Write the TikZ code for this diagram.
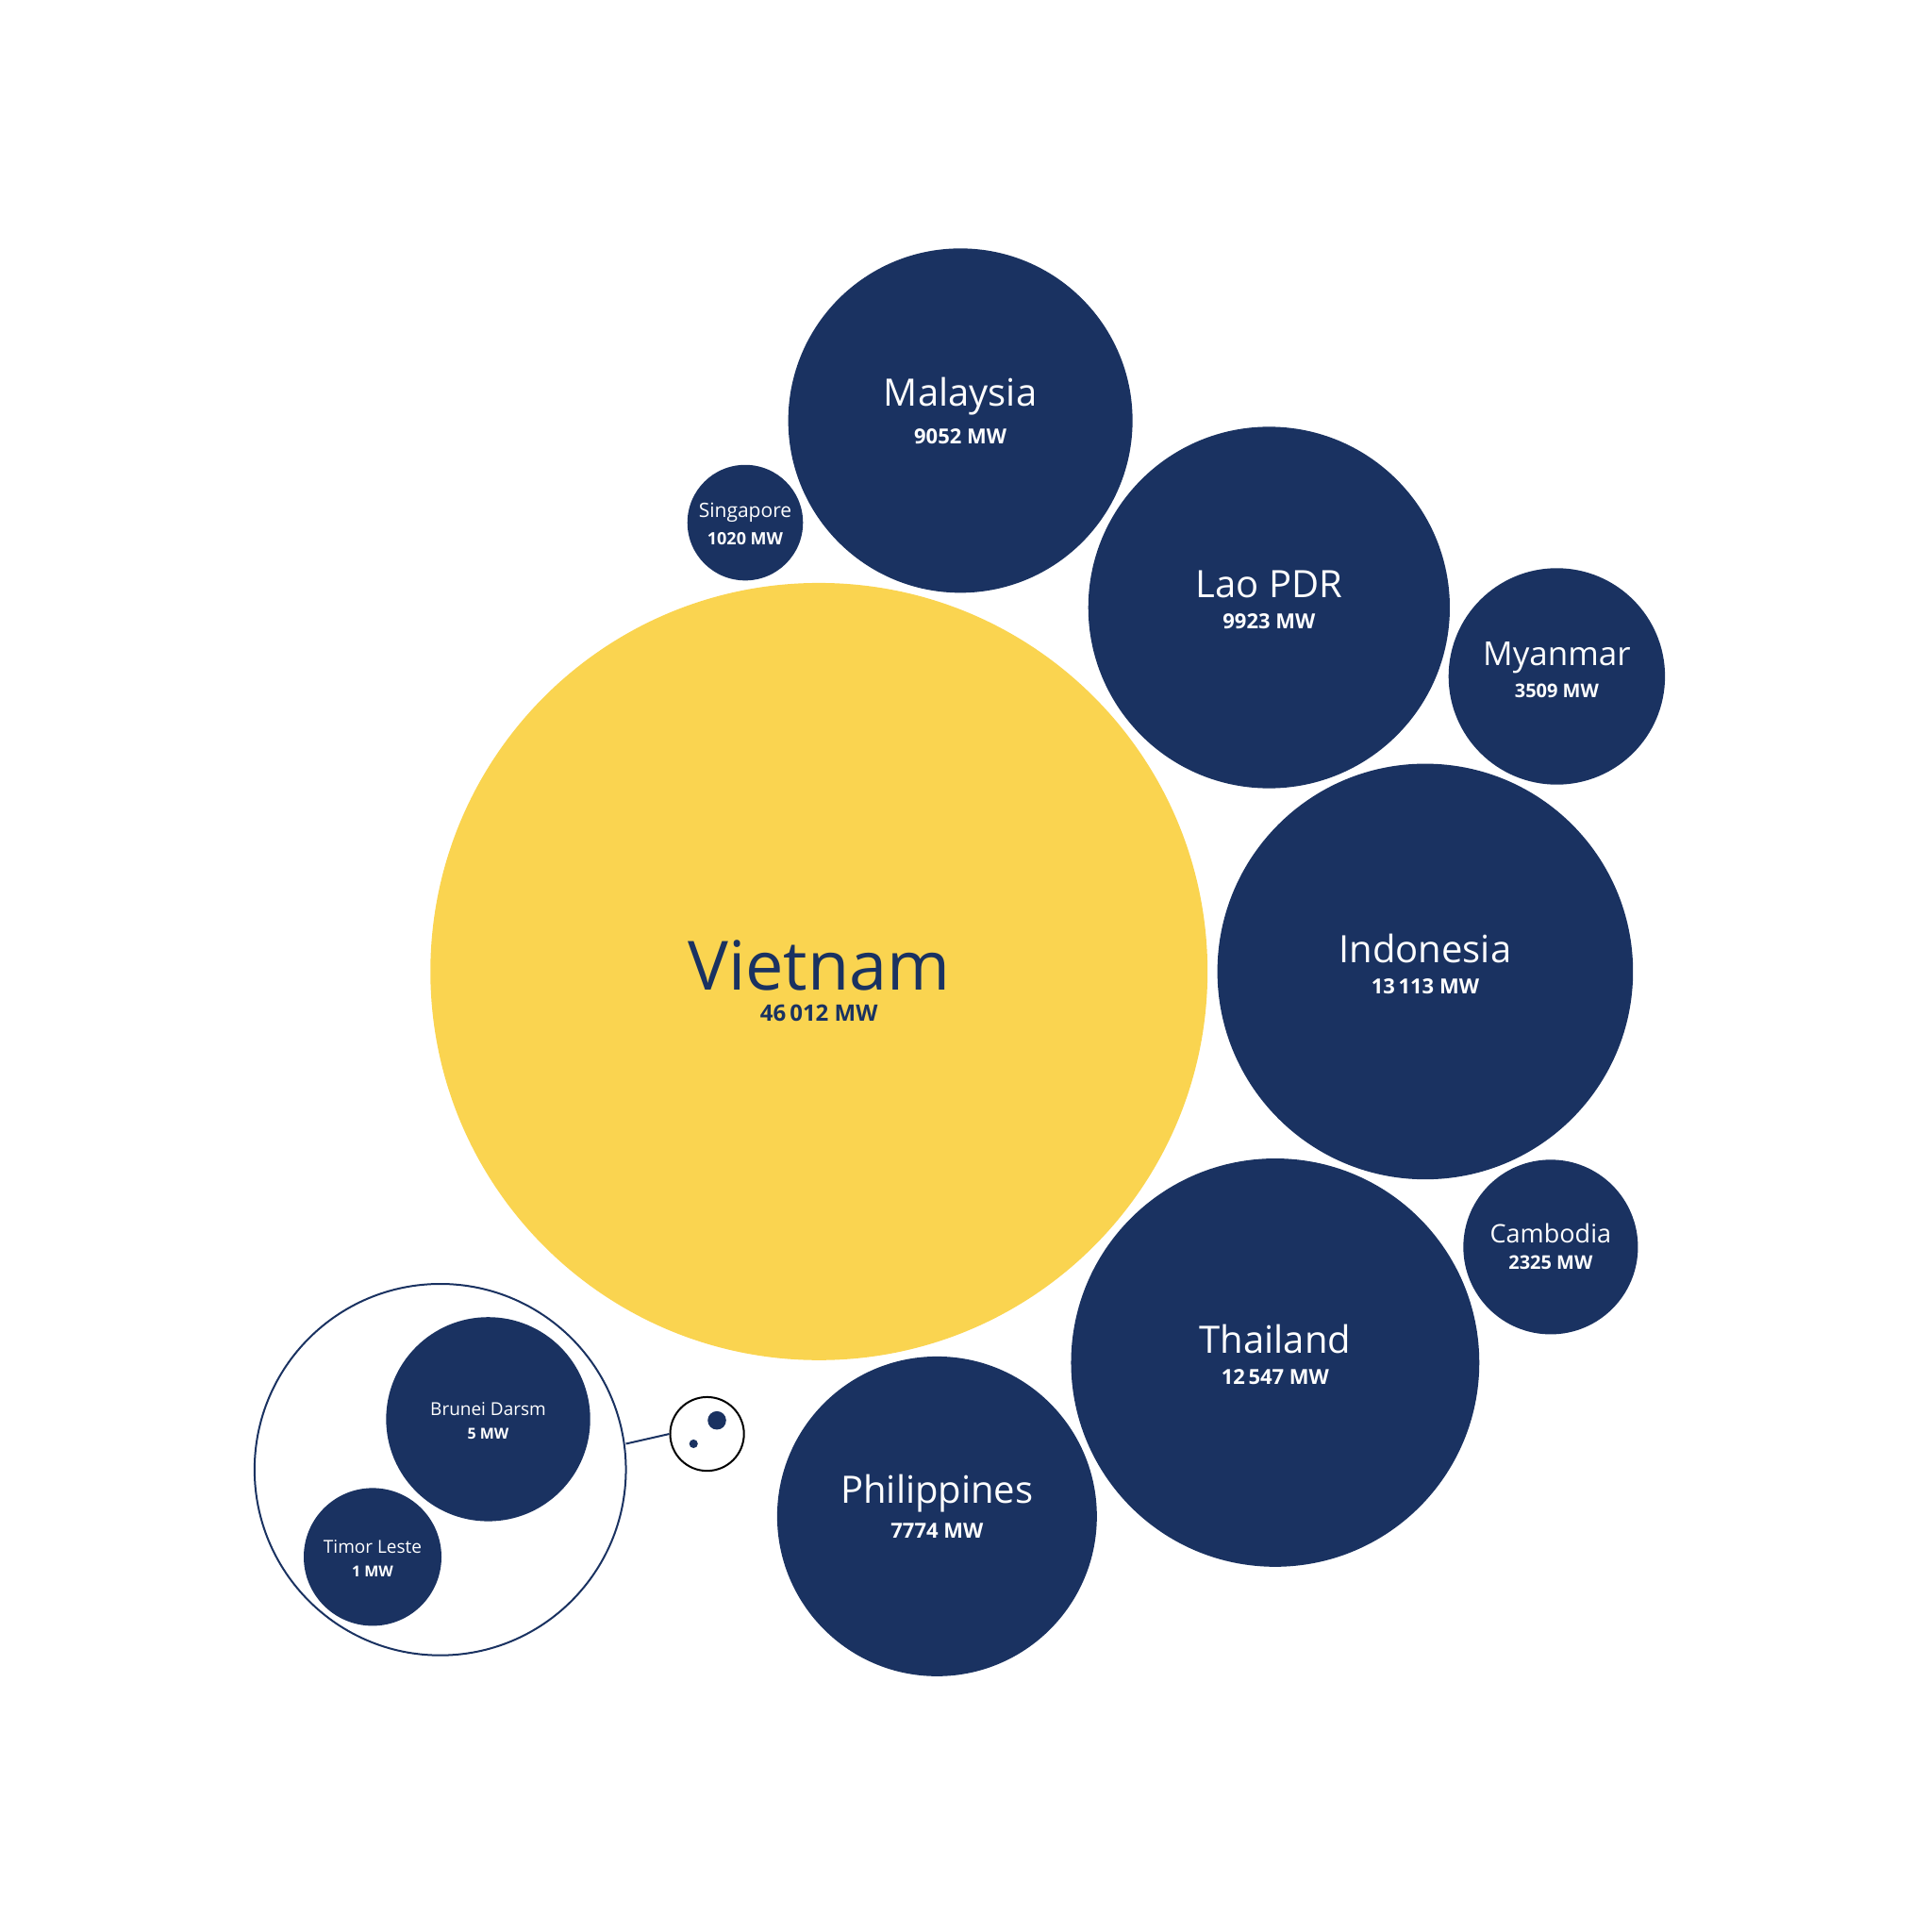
\documentclass[tikz,border=0pt]{standalone}
\usepackage{fontspec}
\setmainfont{Open Sans}
\definecolor{navy}{HTML}{1A3261}
\definecolor{sun}{HTML}{FAD450}
\begin{document}
\begin{tikzpicture}[x=1.3036pt,y=-1.3036pt,
  bub/.style={circle,fill=navy,draw=none,inner sep=0pt,minimum size=#1*2.6072pt},
  lab/.style={text=white,inner sep=0pt},
  ]
\useasboundingbox (0,0) rectangle (1568,1571);
% name, x, y, r, name-size, name-dy, value, value-size, value-dy
\newcommand{\bl}[9]{%
  \node[bub=#4] (#1) at (#2,#3) {};
  \node[lab] (#1n) at (#2,#3+#6) {\fontsize{#5}{#5}\selectfont #7};
  \node[lab] (#1v) at (#2,#3+#9) {\fontsize{#8}{#8}\selectfont\bfseries #9};}
\renewcommand{\bl}[9]{%
  \node[bub=#4] (#1) at (#2,#3) {};
  \node[lab] (#1n) at (#2,#3+#6) {\fontsize{#5}{#5}\selectfont #7};
  \node[lab] (#1v) at (#2,#3+#9) {\fontsize{#8}{#8}\selectfont\bfseries \csname val#1\endcsname};}
\def\valmal{9052 MW}\def\valsing{1020 MW}\def\vallao{9923 MW}\def\valmya{3509 MW}
\def\valind{13\,113 MW}\def\valcam{2325 MW}\def\valtha{12\,547 MW}\def\valphi{7774 MW}
\def\valbru{5 MW}\def\valtim{1 MW}
\node[circle,fill=sun,inner sep=0pt,minimum size=316*2.6072pt] (viet) at (666,790) {};
\node[text=navy,inner sep=0pt] (vietn) at (666,785) {\fontsize{72}{72}\selectfont Vietnam};
\node[text=navy,inner sep=0pt] (vietv) at (666,824) {\fontsize{24}{24}\selectfont\bfseries 46\,012 MW};
\bl{mal}{781}{342}{140}{40}{-20}{Malaysia}{22}{13}
\bl{sing}{606}{425}{47}{21}{-8}{Singapore}{18}{13}
\bl{lao}{1032}{494}{147}{40}{-19}{Lao PDR}{22}{11}
\bl{mya}{1266}{550}{88}{35}{-15}{Myanmar}{20}{12}
\bl{ind}{1159}{790}{169}{40}{-19}{Indonesia}{22}{12}
\bl{cam}{1261}{1014}{71}{27}{-11}{Cambodia}{20}{13}
\bl{tha}{1037}{1108}{166}{40}{-19}{Thailand}{22}{12}
\bl{phi}{762}{1233}{130}{40}{-19}{Philippines}{22}{12}
\node[circle,draw=navy,line width=2pt,inner sep=0pt,minimum size=302*1.3036pt] (zoomc) at (358,1195) {};
\bl{bru}{397}{1154}{83}{19}{-8}{Brunei Darsm}{16}{12}
\bl{tim}{303}{1266}{56}{19}{-8}{Timor Leste}{16}{12}
\node[circle,draw=black,line width=2pt,inner sep=0pt,minimum size=60*1.3036pt] (small) at (575,1166) {};
\node[bub=7.5] (d1) at (583,1155) {};
\node[bub=3.5] (d2) at (564,1174) {};
\coordinate (z1) at (509,1174);
\draw[navy,line width=2pt] (z1) -- (small.west);
\end{tikzpicture}
\end{document}
